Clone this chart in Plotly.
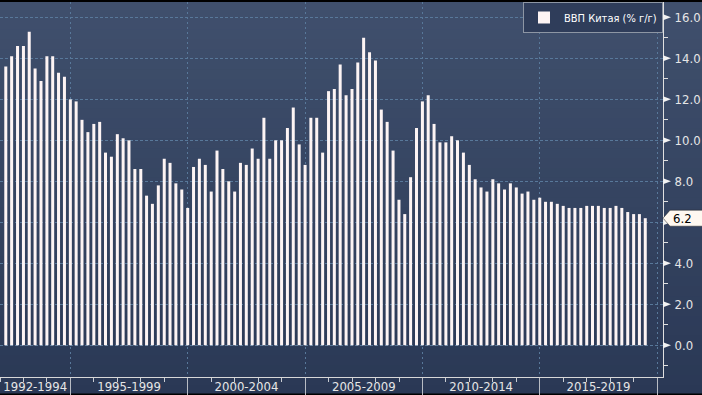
import plotly.graph_objects as go
import pandas as pd

# ---------------- data ----------------
gdp = [
    13.6, 14.1, 14.6, 14.6, 15.3, 13.5, 12.9, 14.1, 14.1, 13.3,
    13.1, 12.0, 11.9, 11.0, 10.4, 10.8, 10.9, 9.4, 9.2, 10.3,
    10.1, 10.0, 8.6, 8.6, 7.3, 6.9, 7.8, 9.1, 8.9, 7.9,
    7.6, 6.7, 8.7, 9.1, 8.8, 7.5, 9.5, 8.6, 8.0, 7.5,
    8.9, 8.8, 9.6, 9.1, 11.1, 9.1, 10.0, 10.0, 10.6, 11.6,
    9.8, 8.8, 11.1, 11.1, 9.4, 12.4, 12.5, 13.7, 12.2, 12.5,
    13.8, 15.0, 14.3, 13.9, 11.5, 10.9, 9.5, 7.1, 6.4, 8.2,
    10.6, 11.9, 12.2, 10.8, 9.9, 9.9, 10.2, 10.0, 9.4, 8.8,
    8.1, 7.7, 7.5, 8.1, 7.9, 7.6, 7.9, 7.7, 7.4, 7.5,
    7.1, 7.2, 7.0, 7.0, 6.9, 6.8, 6.7, 6.7, 6.7, 6.8,
    6.8, 6.8, 6.7, 6.7, 6.8, 6.7, 6.5, 6.4, 6.4, 6.2,
]
first_quarter = "1992Q1"
series_name = "ВВП Китая (% г/г)"

group_labels = ["1992-1994", "1995-1999", "2000-2004", "2005-2009", "2010-2014", "2015-2019"]
group_starts = ["1992-01-01", "1995-01-01", "2000-01-01", "2005-01-01", "2010-01-01", "2015-01-01"]
group_ends = ["1995-01-01", "2000-01-01", "2005-01-01", "2010-01-01", "2015-01-01", "2020-01-01"]
y_ticks = [0, 2, 4, 6, 8, 10, 12, 14, 16]

x_range = ["1992-01-01", "2020-04-01"]
y_range = [-1.55, 16.75]

# ---------------- derived ----------------
dates = pd.period_range(first_quarter, periods=len(gdp), freq="Q").end_time.normalize()
mids = [pd.Timestamp(s) + (pd.Timestamp(e) - pd.Timestamp(s)) / 2 for s, e in zip(group_starts, group_ends)]
boundaries = list(group_ends)
last = gdp[-1]
# the last-value flag covers the tick label next to it (as in the reference)
y_ticktext = ["" if abs(v - last) < 0.7 else f"{v:.1f}" for v in y_ticks]

FONT = "DejaVu Sans Condensed, Liberation Sans, Arial, sans-serif"
TXT = "#e6e6e6"
GRID = "#58789a"
BAR = "#fdf4f4"

W, H = 702, 395
ML, MR, MT, MB = 0, 39, 2, 18
PW, PH = W - ML - MR, H - MT - MB


def py(p):
    return (H - MB - p) / PH


def px(p):
    return (p - ML) / PW


fig = go.Figure()
fig.add_trace(go.Bar(
    x=dates, y=gdp, name=series_name,
    marker=dict(color=BAR, line=dict(width=0)),
    hoverinfo="skip", showlegend=True,
))
# invisible carrier so the label axis (x2) is drawn
fig.add_trace(go.Scatter(
    x=mids, y=[None] * len(mids), xaxis="x2", yaxis="y",
    mode="markers", showlegend=False, hoverinfo="skip",
))

shapes = []
# background gradient
top_c = (0x40, 0x50, 0x6d)
bot_c = (0x2a, 0x38, 0x55)
n = 40
for i in range(n):
    p0 = H * i / n
    p1 = H * (i + 1) / n
    t = (i + 0.5) / n
    c = tuple(round(top_c[k] + (bot_c[k] - top_c[k]) * t) for k in range(3))
    shapes.append(dict(type="rect", xref="paper", yref="paper",
                       x0=px(0) - 0.01, x1=px(W) + 0.01, y0=py(p1 + 0.5), y1=py(p0),
                       fillcolor="rgb(%d,%d,%d)" % c, line=dict(width=0), layer="below"))
# black strips top/bottom
shapes.append(dict(type="rect", xref="paper", yref="paper", x0=px(0) - 0.01, x1=px(W) + 0.01,
                   y0=py(2), y1=py(-1), fillcolor="black", line=dict(width=0), layer="below"))
shapes.append(dict(type="rect", xref="paper", yref="paper", x0=px(0) - 0.01, x1=px(W) + 0.01,
                   y0=py(396), y1=py(393.5), fillcolor="black", line=dict(width=0), layer="below"))

# triangle tick markers on right axis
for v in y_ticks:
    shapes.append(dict(type="path", xref="paper", yref="y", xsizemode="pixel", ysizemode="pixel",
                       xanchor=1, yanchor=v, path="M0,3 L8,0 L0,-3 Z",
                       fillcolor="#f2f2f2", line=dict(width=0), layer="above"))

# last value flag
shapes.append(dict(type="path", xref="paper", yref="y", xsizemode="pixel", ysizemode="pixel",
                   xanchor=1, yanchor=last, path="M0,0 L7,8 L42,8 L42,-8 L7,-8 Z",
                   fillcolor="#fff8f0", line=dict(color="#222222", width=0.5), layer="above"))

annotations = [dict(xref="paper", yref="y", x=1, y=last, xanchor="left", yanchor="middle",
                    xshift=8, text=f"{last:.1f}", showarrow=False,
                    font=dict(family=FONT, size=13, color="#000000"))]

fig.update_layout(
    width=W, height=H,
    margin=dict(l=ML, r=MR, t=MT, b=MB, autoexpand=False),
    paper_bgcolor="#35445f",
    plot_bgcolor="rgba(0,0,0,0)",
    bargap=0.48,
    hovermode=False,
    shapes=shapes,
    annotations=annotations,
    font=dict(family=FONT, size=13, color=TXT),
    legend=dict(x=1, xanchor="right", y=1, yanchor="top",
                bgcolor="#2f3d5a", bordercolor="#8d96a4", borderwidth=1,
                font=dict(family=FONT, size=11, color="#ffffff"),
                itemwidth=30, itemclick=False, itemdoubleclick=False),
    xaxis=dict(
        type="date", range=x_range, fixedrange=True,
        tickmode="array", tickvals=boundaries, ticktext=["" for _ in boundaries],
        showgrid=True, gridcolor=GRID, griddash="2px,3px", gridwidth=1,
        ticks="outside", ticklen=17, tickcolor="#b8bcc4", tickwidth=1,
        showline=True, linecolor="#d8d8d8", linewidth=1,
        minor=dict(ticks="outside", ticklen=4, tickcolor="#c8ccd2", dtick="M12",
                   tick0="1992-01-01", showgrid=False),
        zeroline=False,
    ),
    xaxis2=dict(
        type="date", range=x_range, overlaying="x", side="bottom", anchor="y", fixedrange=True,
        tickmode="array", tickvals=mids, ticktext=group_labels,
        ticks="", ticklen=0, showgrid=False, showline=False, zeroline=False,
        tickfont=dict(family=FONT, size=13, color=TXT),
    ),
    yaxis=dict(
        side="right", range=y_range, fixedrange=True,
        tickmode="array", tickvals=y_ticks, ticktext=y_ticktext,
        ticks="outside", ticklen=8, tickcolor="rgba(0,0,0,0)",
        showgrid=True, gridcolor=GRID, griddash="3px,2px", gridwidth=1,
        showline=True, linecolor="#e0e0e0", linewidth=1,
        minor=dict(ticks="outside", ticklen=4, tickcolor="#e0e0e0", tickvals=[-1, 1, 3, 5, 7, 9, 11, 13, 15],
                   showgrid=False),
        zeroline=False,
        tickfont=dict(family=FONT, size=13, color=TXT),
    ),
)

fig.write_html("out.html")
